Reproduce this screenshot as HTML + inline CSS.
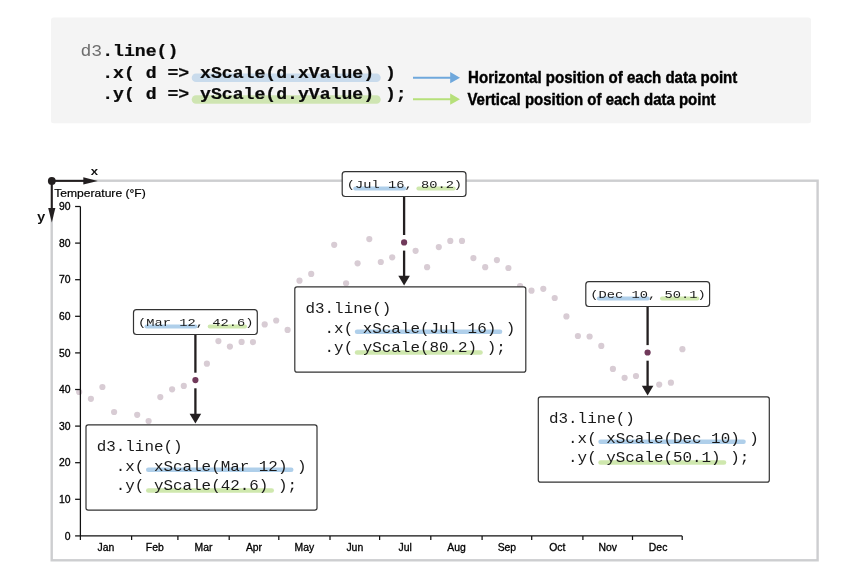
<!DOCTYPE html>
<html><head><meta charset="utf-8"><title>d3.line accessor functions</title>
<style>
html,body{margin:0;padding:0;background:#fff;}
body{width:845px;height:577px;overflow:hidden;}
svg{display:block;will-change:transform;}
text{font-family:"Liberation Mono", monospace;fill:#1a1a1a;}
.m18{font-size:18.13px;}
.m16{font-size:15.9px;}
.m14{font-size:13.7px;}
.b{font-weight:bold;fill:#0a0a0a;stroke:#0a0a0a;stroke-width:0.25px;}
.gs{font-family:"Liberation Sans", sans-serif;font-weight:bold;font-size:17.3px;fill:#000;stroke:#000;stroke-width:0.45px;}
.ax{font-family:"Liberation Sans", sans-serif;font-size:10.4px;fill:#000;stroke:#000;stroke-width:0.3px;}
.ax2{font-family:"Liberation Sans", sans-serif;font-size:11.5px;fill:#000;stroke:#000;stroke-width:0.2px;}
.lab{font-family:"Liberation Mono", monospace;font-weight:bold;font-size:12.5px;fill:#111;}
</style></head>
<body>
<svg width="845" height="577" viewBox="0 0 845 577">
<rect width="845" height="577" fill="#fff"/>
<rect x="51" y="17.6" width="760" height="105.7" rx="2.5" fill="#f4f4f4"/>
<rect x="191.7" y="73.4" width="189" height="8.6" rx="4.3" fill="#c9dbec"/>
<rect x="191.7" y="95.2" width="189" height="8.6" rx="4.3" fill="#cfe5b2"/>
<text transform="translate(80.40 55.80) scale(1 0.87)" class="m18" xml:space="preserve" ><tspan fill="#6e6e6e">d3</tspan><tspan class="b">.line()</tspan></text>
<text transform="translate(80.40 77.50) scale(1 0.87)" class="m18 b" xml:space="preserve" >  .x( d =&gt; xScale(d.xValue) )</text>
<text transform="translate(80.40 99.10) scale(1 0.87)" class="m18 b" xml:space="preserve" >  .y( d =&gt; yScale(d.yValue) );</text>
<line x1="413" y1="77.7" x2="451.2" y2="77.7" stroke="#6fa8dc" stroke-width="2"/>
<path d="M450.2 72.10000000000001 L460 77.7 L450.2 83.3 Z" fill="#6fa8dc"/>
<line x1="413" y1="99.2" x2="451.2" y2="99.2" stroke="#b6e07a" stroke-width="2"/>
<path d="M450.2 93.60000000000001 L460 99.2 L450.2 104.8 Z" fill="#b6e07a"/>
<text x="468.1" y="83.4" class="gs" textLength="269.2" lengthAdjust="spacingAndGlyphs">Horizontal position of each data point</text>
<text x="467.4" y="104.8" class="gs" textLength="248.2" lengthAdjust="spacingAndGlyphs">Vertical position of each data point</text>
<rect x="51.7" y="180.7" width="765.9" height="379.6" fill="none" stroke="#cdced0" stroke-width="2.4"/>
<circle cx="79.2" cy="392" r="3.1" fill="#d8ccd4"/>
<circle cx="90.9" cy="398.8" r="3.1" fill="#d8ccd4"/>
<circle cx="102.4" cy="387" r="3.1" fill="#d8ccd4"/>
<circle cx="114.1" cy="412" r="3.1" fill="#d8ccd4"/>
<circle cx="137.2" cy="414.8" r="3.1" fill="#d8ccd4"/>
<circle cx="148.6" cy="421" r="3.1" fill="#d8ccd4"/>
<circle cx="160.3" cy="397.1" r="3.1" fill="#d8ccd4"/>
<circle cx="172.1" cy="389.3" r="3.1" fill="#d8ccd4"/>
<circle cx="183.8" cy="385.9" r="3.1" fill="#d8ccd4"/>
<circle cx="206.9" cy="363.7" r="3.1" fill="#d8ccd4"/>
<circle cx="218.4" cy="341.1" r="3.1" fill="#d8ccd4"/>
<circle cx="229.9" cy="346.6" r="3.1" fill="#d8ccd4"/>
<circle cx="241.6" cy="341.9" r="3.1" fill="#d8ccd4"/>
<circle cx="253" cy="342.1" r="3.1" fill="#d8ccd4"/>
<circle cx="264.7" cy="324.4" r="3.1" fill="#d8ccd4"/>
<circle cx="276.2" cy="320.5" r="3.1" fill="#d8ccd4"/>
<circle cx="287.6" cy="329.9" r="3.1" fill="#d8ccd4"/>
<circle cx="299.5" cy="280.7" r="3.1" fill="#d8ccd4"/>
<circle cx="311.2" cy="273.9" r="3.1" fill="#d8ccd4"/>
<circle cx="334.2" cy="244.8" r="3.1" fill="#d8ccd4"/>
<circle cx="346.1" cy="283.3" r="3.1" fill="#d8ccd4"/>
<circle cx="357.6" cy="263.3" r="3.1" fill="#d8ccd4"/>
<circle cx="369.3" cy="239.1" r="3.1" fill="#d8ccd4"/>
<circle cx="380.8" cy="262" r="3.1" fill="#d8ccd4"/>
<circle cx="392.2" cy="257.3" r="3.1" fill="#d8ccd4"/>
<circle cx="415.6" cy="250.8" r="3.1" fill="#d8ccd4"/>
<circle cx="427.1" cy="267.2" r="3.1" fill="#d8ccd4"/>
<circle cx="438.8" cy="247.1" r="3.1" fill="#d8ccd4"/>
<circle cx="450.3" cy="240.9" r="3.1" fill="#d8ccd4"/>
<circle cx="462" cy="240.9" r="3.1" fill="#d8ccd4"/>
<circle cx="473.4" cy="258.1" r="3.1" fill="#d8ccd4"/>
<circle cx="485.2" cy="267.2" r="3.1" fill="#d8ccd4"/>
<circle cx="496.9" cy="260.1" r="3.1" fill="#d8ccd4"/>
<circle cx="508.4" cy="268" r="3.1" fill="#d8ccd4"/>
<circle cx="520.1" cy="286" r="3.1" fill="#d8ccd4"/>
<circle cx="531.5" cy="290.7" r="3.1" fill="#d8ccd4"/>
<circle cx="543.3" cy="288.8" r="3.1" fill="#d8ccd4"/>
<circle cx="554.7" cy="298" r="3.1" fill="#d8ccd4"/>
<circle cx="566.4" cy="316.4" r="3.1" fill="#d8ccd4"/>
<circle cx="577.9" cy="336" r="3.1" fill="#d8ccd4"/>
<circle cx="589.6" cy="336.5" r="3.1" fill="#d8ccd4"/>
<circle cx="601.3" cy="345.9" r="3.1" fill="#d8ccd4"/>
<circle cx="612.9" cy="368.9" r="3.1" fill="#d8ccd4"/>
<circle cx="624.6" cy="377.8" r="3.1" fill="#d8ccd4"/>
<circle cx="636" cy="376" r="3.1" fill="#d8ccd4"/>
<circle cx="659.2" cy="384.6" r="3.1" fill="#d8ccd4"/>
<circle cx="670.9" cy="382.7" r="3.1" fill="#d8ccd4"/>
<circle cx="682.4" cy="349.2" r="3.1" fill="#d8ccd4"/>
<g stroke="#111" stroke-width="1.25" fill="none">
<path d="M80.4 206.5 V535.9"/>
<path d="M80.4 535.9 H682.2"/>
<path d="M75.10000000000001 535.9 H80.4"/>
<path d="M75.10000000000001 499.3 H80.4"/>
<path d="M75.10000000000001 462.7 H80.4"/>
<path d="M75.10000000000001 426.1 H80.4"/>
<path d="M75.10000000000001 389.5 H80.4"/>
<path d="M75.10000000000001 352.9 H80.4"/>
<path d="M75.10000000000001 316.3 H80.4"/>
<path d="M75.10000000000001 279.7 H80.4"/>
<path d="M75.10000000000001 243.1 H80.4"/>
<path d="M75.10000000000001 206.5 H80.4"/>
<path d="M80.4 535.9 V540.0"/>
<path d="M131.6 535.9 V540.0"/>
<path d="M177.9 535.9 V540.0"/>
<path d="M229.2 535.9 V540.0"/>
<path d="M278.8 535.9 V540.0"/>
<path d="M330.0 535.9 V540.0"/>
<path d="M379.6 535.9 V540.0"/>
<path d="M430.8 535.9 V540.0"/>
<path d="M482.1 535.9 V540.0"/>
<path d="M531.7 535.9 V540.0"/>
<path d="M582.9 535.9 V540.0"/>
<path d="M632.5 535.9 V540.0"/>
<path d="M682.2 535.9 V540.0"/>
</g>
<text x="70.6" y="539.5" class="ax" text-anchor="end">0</text>
<text x="70.6" y="502.9" class="ax" text-anchor="end">10</text>
<text x="70.6" y="466.3" class="ax" text-anchor="end">20</text>
<text x="70.6" y="429.7" class="ax" text-anchor="end">30</text>
<text x="70.6" y="393.1" class="ax" text-anchor="end">40</text>
<text x="70.6" y="356.5" class="ax" text-anchor="end">50</text>
<text x="70.6" y="319.9" class="ax" text-anchor="end">60</text>
<text x="70.6" y="283.3" class="ax" text-anchor="end">70</text>
<text x="70.6" y="246.7" class="ax" text-anchor="end">80</text>
<text x="70.6" y="210.1" class="ax" text-anchor="end">90</text>
<text x="106.0" y="550.7" class="ax" text-anchor="middle">Jan</text>
<text x="154.8" y="550.7" class="ax" text-anchor="middle">Feb</text>
<text x="203.5" y="550.7" class="ax" text-anchor="middle">Mar</text>
<text x="254.0" y="550.7" class="ax" text-anchor="middle">Apr</text>
<text x="304.4" y="550.7" class="ax" text-anchor="middle">May</text>
<text x="354.8" y="550.7" class="ax" text-anchor="middle">Jun</text>
<text x="405.2" y="550.7" class="ax" text-anchor="middle">Jul</text>
<text x="456.5" y="550.7" class="ax" text-anchor="middle">Aug</text>
<text x="506.9" y="550.7" class="ax" text-anchor="middle">Sep</text>
<text x="557.3" y="550.7" class="ax" text-anchor="middle">Oct</text>
<text x="607.7" y="550.7" class="ax" text-anchor="middle">Nov</text>
<text x="658.1" y="550.7" class="ax" text-anchor="middle">Dec</text>
<text x="54.2" y="196.9" class="ax2" textLength="91.6" lengthAdjust="spacingAndGlyphs">Temperature (°F)</text>
<g fill="#231f20" stroke="none">
<rect x="51.8" y="179.9" width="33" height="2"/>
<path d="M83.3 177.3 L97.8 180.9 L83.3 184.5 Z"/>
<rect x="50.8" y="180.9" width="2" height="28"/>
<path d="M48.2 207.9 L51.8 222.5 L55.4 207.9 Z"/>
<circle cx="51.8" cy="180.9" r="3.9"/>
</g>
<text transform="translate(94.30 174.80) scale(1 0.77)" class="lab" xml:space="preserve" text-anchor="middle" style="font-size:13px">x</text>
<text transform="translate(41.30 221.00) scale(1 0.85)" class="lab" xml:space="preserve" text-anchor="middle" style="font-size:14px">y</text>
<g fill="#231f20">
<rect x="194.25" y="333.7" width="2.3" height="39.0"/>
<rect x="194.25" y="388.3" width="2.3" height="26.5"/>
<path d="M189.6 413.7 L201.20000000000002 413.7 L195.4 423.5 Z"/>
</g>
<circle cx="195.4" cy="380.1" r="3.1" fill="#70395a"/>
<rect x="133.5" y="309.7" width="123.8" height="24.8" rx="3" fill="#fff" stroke="#333" stroke-width="1.2"/>
<rect x="144.5" y="324.59999999999997" width="53" height="4.0" rx="2" fill="#afcfea"/>
<rect x="207.7" y="324.59999999999997" width="39.3" height="4.0" rx="2" fill="#cfe8ae"/>
<text transform="translate(138.00 326.00) scale(1 0.8)" class="m14" xml:space="preserve" textLength="115.4" lengthAdjust="spacing">(Mar 12, 42.6)</text>
<rect x="86" y="424.8" width="231" height="85.3" rx="2.2" fill="#fff" stroke="#333" stroke-width="1.2"/>
<rect x="146.0" y="467.5" width="147.5" height="4.6" rx="2.3" fill="#afcfea"/>
<rect x="146.0" y="488.2" width="128.0" height="4.6" rx="2.3" fill="#cfe8ae"/>
<text transform="translate(96.70 450.80) scale(1 0.88)" class="m16" xml:space="preserve" >d3.line()</text>
<text transform="translate(96.70 470.50) scale(1 0.88)" class="m16" xml:space="preserve" >  .x( xScale(Mar 12) )</text>
<text transform="translate(96.70 489.60) scale(1 0.88)" class="m16" xml:space="preserve" >  .y( yScale(42.6) );</text>
<g fill="#231f20">
<rect x="402.95000000000005" y="195.7" width="2.3" height="39.3"/>
<rect x="402.95000000000005" y="250.6" width="2.3" height="26.2"/>
<path d="M398.3 275.7 L409.90000000000003 275.7 L404.1 285.5 Z"/>
</g>
<circle cx="404.1" cy="242.4" r="3.1" fill="#70395a"/>
<rect x="342.2" y="171.7" width="123.8" height="24.8" rx="3" fill="#fff" stroke="#333" stroke-width="1.2"/>
<rect x="353.2" y="186.6" width="53" height="4.0" rx="2" fill="#afcfea"/>
<rect x="416.4" y="186.6" width="39.3" height="4.0" rx="2" fill="#cfe8ae"/>
<text transform="translate(346.70 188.00) scale(1 0.8)" class="m14" xml:space="preserve" textLength="115.4" lengthAdjust="spacing">(Jul 16, 80.2)</text>
<rect x="294.8" y="286.8" width="231" height="85.3" rx="2.2" fill="#fff" stroke="#333" stroke-width="1.2"/>
<rect x="354.8" y="329.5" width="147.5" height="4.6" rx="2.3" fill="#afcfea"/>
<rect x="354.8" y="350.2" width="128.0" height="4.6" rx="2.3" fill="#cfe8ae"/>
<text transform="translate(305.50 312.80) scale(1 0.88)" class="m16" xml:space="preserve" >d3.line()</text>
<text transform="translate(305.50 332.50) scale(1 0.88)" class="m16" xml:space="preserve" >  .x( xScale(Jul 16) )</text>
<text transform="translate(305.50 351.60) scale(1 0.88)" class="m16" xml:space="preserve" >  .y( yScale(80.2) );</text>
<g fill="#231f20">
<rect x="646.45" y="305.7" width="2.3" height="39.4"/>
<rect x="646.45" y="360.7" width="2.3" height="26.1"/>
<path d="M641.8000000000001 385.7 L653.4 385.7 L647.6 395.5 Z"/>
</g>
<circle cx="647.6" cy="352.5" r="3.1" fill="#70395a"/>
<rect x="585.8" y="281.7" width="123.8" height="24.8" rx="3" fill="#fff" stroke="#333" stroke-width="1.2"/>
<rect x="596.8" y="296.59999999999997" width="53" height="4.0" rx="2" fill="#afcfea"/>
<rect x="660.0" y="296.59999999999997" width="39.3" height="4.0" rx="2" fill="#cfe8ae"/>
<text transform="translate(590.30 298.00) scale(1 0.8)" class="m14" xml:space="preserve" textLength="115.4" lengthAdjust="spacing">(Dec 10, 50.1)</text>
<rect x="538.3" y="396.8" width="231" height="85.3" rx="2.2" fill="#fff" stroke="#333" stroke-width="1.2"/>
<rect x="598.3" y="439.5" width="147.5" height="4.6" rx="2.3" fill="#afcfea"/>
<rect x="598.3" y="460.2" width="128.0" height="4.6" rx="2.3" fill="#cfe8ae"/>
<text transform="translate(549.00 422.80) scale(1 0.88)" class="m16" xml:space="preserve" >d3.line()</text>
<text transform="translate(549.00 442.50) scale(1 0.88)" class="m16" xml:space="preserve" >  .x( xScale(Dec 10) )</text>
<text transform="translate(549.00 461.60) scale(1 0.88)" class="m16" xml:space="preserve" >  .y( yScale(50.1) );</text>
</svg>
</body></html>
